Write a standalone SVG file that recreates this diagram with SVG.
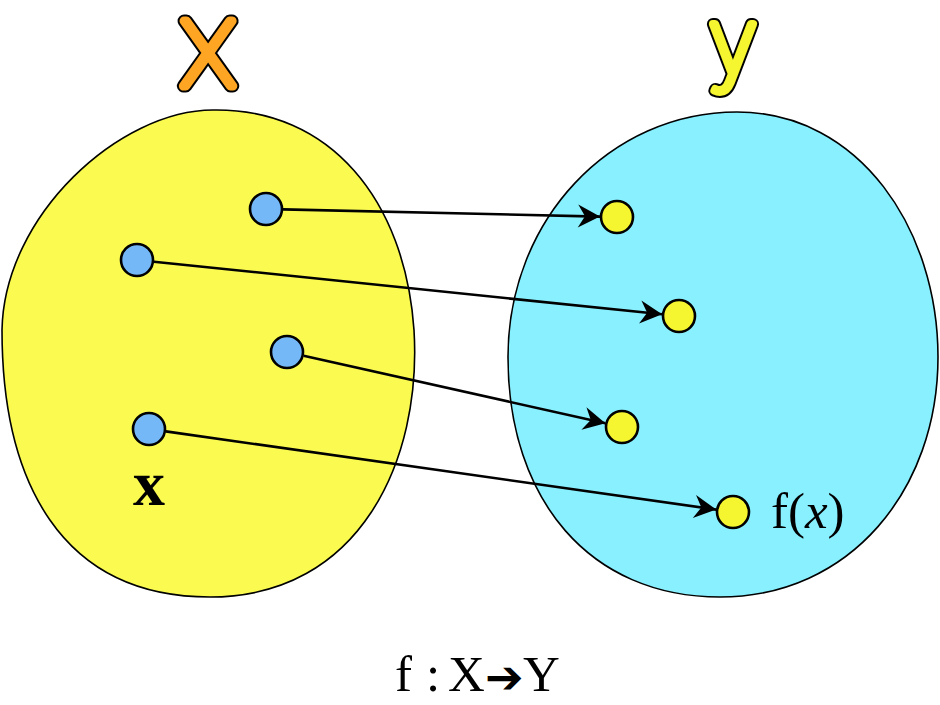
<svg xmlns="http://www.w3.org/2000/svg" width="940" height="705" viewBox="0 0 940 705">
<style>
.blob{stroke:#000;stroke-width:1.6}
.src{fill:#74B8F8;stroke:#000;stroke-width:2.6}
.dst{fill:#F5F530;stroke:#000;stroke-width:2.6}
.conn{stroke:#000;stroke-width:2.6;fill:none;marker-end:url(#ah)}
.serif{font-family:"Liberation Serif","Times New Roman",serif;fill:#000}
.big{font-family:Inter,"DejaVu Sans",sans-serif;font-weight:100;stroke-linejoin:round;stroke-linecap:round;text-anchor:middle}
</style>
<defs>
<marker id="ah" markerUnits="userSpaceOnUse" viewBox="-24 -13 26 26" refX="0" refY="0" markerWidth="26" markerHeight="26" orient="auto">
<path d="M0,0 L-22,-11.5 L-15,0 L-22,11.5 Z" fill="#000"/>
</marker>
</defs>
<rect width="940" height="705" fill="#fff"/>
<g id="setX">
<path class="blob" fill="#FAFA50" d="M213,110 C330,108 405,200 414,330 C422,460 360,597 210,597 C60,597 2,480 2,330 C4,215 120,110 213,110 Z"/>
<text class="big" x="208" y="86" font-size="89" fill="none" stroke="#000" stroke-width="13">X</text>
<text class="big" x="208" y="86" font-size="89" fill="#FFA524" stroke="#FFA524" stroke-width="9">X</text>
</g>
<g id="setY">
<path class="blob" fill="#88F0FF" d="M737,112 C860,112 938,230 938,357 C938,490 850,597 720,597 C590,597 508,500 508,357 C508,220 610,112 737,112 Z"/>
<text class="big" x="733" y="73" font-size="90" fill="none" stroke="#000" stroke-width="12">y</text>
<text class="big" x="733" y="73" font-size="90" fill="#F5F530" stroke="#F5F530" stroke-width="8">y</text>
</g>
<g id="connectors">
<line class="conn" x1="283" y1="209.4" x2="600" y2="216.6"/>
<line class="conn" x1="153.9" y1="261.7" x2="662.1" y2="314.3"/>
<line class="conn" x1="303.6" y1="355.7" x2="605.4" y2="423.3"/>
<line class="conn" x1="165.8" y1="431.4" x2="716.2" y2="509.6"/>
</g>
<g id="x1"><circle class="src" cx="266" cy="209" r="16"/></g>
<g id="x2"><circle class="src" cx="137" cy="260" r="16"/></g>
<g id="x3"><circle class="src" cx="287" cy="352" r="16"/></g>
<g id="x4"><circle class="src" cx="149" cy="429" r="16"/>
<text class="serif" x="149" y="505" font-size="64" font-weight="bold" text-anchor="middle">x</text></g>
<g id="y1"><circle class="dst" cx="617" cy="217" r="16"/></g>
<g id="y2"><circle class="dst" cx="679" cy="316" r="16"/></g>
<g id="y3"><circle class="dst" cx="622" cy="427" r="16"/></g>
<g id="y4"><circle class="dst" cx="733" cy="512" r="16"/>
<text class="serif" x="771" y="528" font-size="51">f(<tspan font-style="italic">x</tspan>)</text></g>
<g id="caption">
<text class="serif" y="691" font-size="51"><tspan x="395">f</tspan><tspan x="426">:</tspan><tspan x="448">X</tspan><tspan x="485" font-family="'DejaVu Sans',sans-serif" font-size="46" dy="2">➔</tspan><tspan x="523" dy="-2">Y</tspan></text>
</g>
</svg>
